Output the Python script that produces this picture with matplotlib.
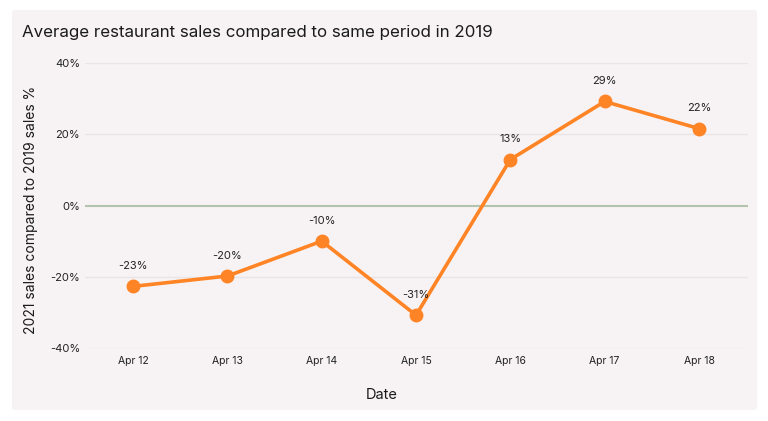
import matplotlib
matplotlib.use("Agg")
import matplotlib.pyplot as plt
from matplotlib.patches import FancyBboxPatch

dates = ["Apr 12", "Apr 13", "Apr 14", "Apr 15", "Apr 16", "Apr 17", "Apr 18"]
values = [-22.7, -19.8, -10.0, -30.8, 12.9, 29.2, 21.6]
labels = ["-23%", "-20%", "-10%", "-31%", "13%", "29%", "22%"]
yticks = [-40, -20, 0, 20, 40]
ytick_labels = ["-40%", "-20%", "0%", "20%", "40%"]

plt.rcParams['font.family'] = ['Inter', 'DejaVu Sans']

fig = plt.figure(figsize=(7.68, 4.21), dpi=100)
fig.patch.set_facecolor("white")
bg = "#f7f3f4"
panel = FancyBboxPatch((12/768, 1-410/421), (757-12)/768, (410-10)/421,
                       boxstyle="round,pad=0,rounding_size=0.005",
                       transform=fig.transFigure, facecolor=bg, edgecolor="none", zorder=-10)
fig.patches.append(panel)

ax = fig.add_axes([85/768, 1-348/421, (748-85)/768, (348-63)/421], zorder=1)
ax.patch.set_visible(False)
x = list(range(len(dates)))
ax.set_xlim(-0.51, 6.52)
ax.set_ylim(-40, 40)
for y in yticks:
    if y == 0:
        ax.axhline(y, color="#b3c4ad", lw=1.5, zorder=1)
    else:
        ax.axhline(y, color="#e9e4e5", lw=1, zorder=1)
ax.plot(x, values, color="#ff8426", lw=2.6, marker="o", ms=9, zorder=3)
for xi, v, lab in zip(x, values, labels):
    ax.annotate(lab, (xi, v), xytext=(0, 11), textcoords="offset points",
                ha="center", va="bottom", fontsize=8, color="#222222")
ax.set_xticks(x)
ax.set_xticklabels(dates, fontsize=7.5, color="#222222")
ax.set_yticks(yticks)
ax.set_yticklabels(ytick_labels, fontsize=8, color="#222222")
ax.tick_params(axis="y", length=0, pad=3.5)
ax.tick_params(axis="x", length=0, pad=6)
for s in ax.spines.values():
    s.set_visible(False)

fig.text(22/768, 1-33/421, "Average restaurant sales compared to same period in 2019",
         fontsize=12.2, color="#1a1a1a", va="center", ha="left")
fig.text(31/768, 1-210/421, "2021 sales compared to 2019 sales %", rotation=90,
         fontsize=10, color="#1a1a1a", va="center", ha="center")
fig.text(382/768, 1-395/421, "Date", fontsize=10.5, color="#1a1a1a", va="center", ha="center")

fig.savefig("out.png", dpi=100, facecolor="white")
